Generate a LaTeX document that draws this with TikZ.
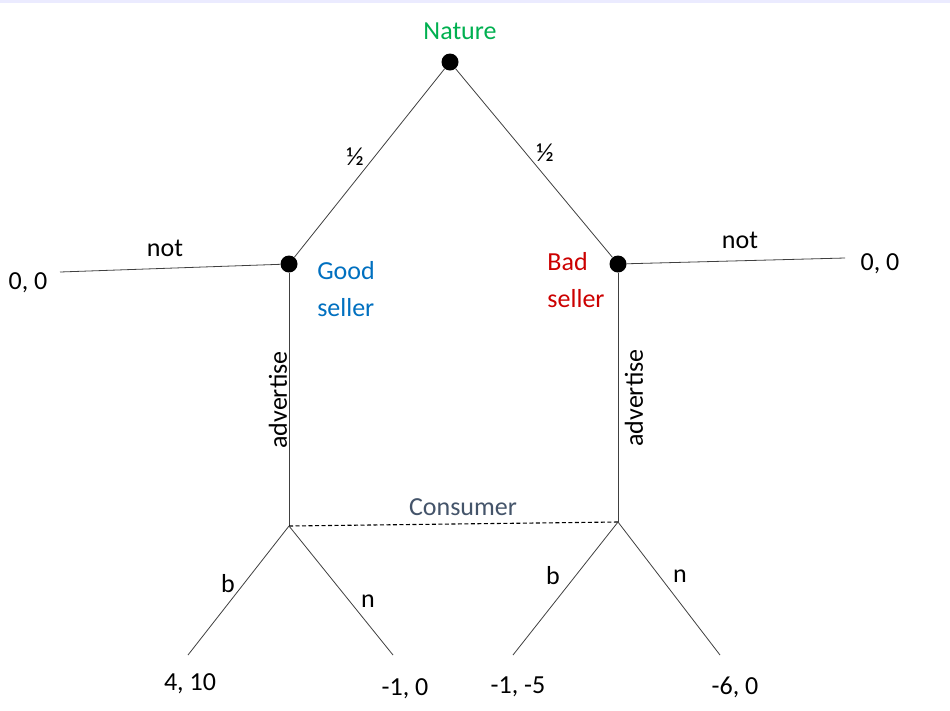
\documentclass[tikz,border=0pt]{standalone}
\usepackage{fontspec}
\setmainfont{Carlito}
\begin{document}
\begin{tikzpicture}[x=1pt,y=-1pt,
  dot/.style={circle,fill=black,inner sep=0pt,minimum width=13pt,minimum height=17pt},
  lbl/.style={font=\fontsize{26}{37}\selectfont},
  edge/.style={draw=black!75,line width=0.8pt}]
\useasboundingbox (0,0) rectangle (950,710);
\fill[white] (0,0) rectangle (950,710);
\draw[blue!8,line width=3pt] (0,1) -- (950,1);
\node[dot] (nat) at (450,62) {};
\node[dot] (gs) at (289,264) {};
\node[dot] (bs) at (618,264) {};
\coordinate (lend) at (60,272);
\coordinate (rend) at (845,258);
\coordinate (gc) at (289,526);
\coordinate (bc) at (618,522);
\coordinate (g1) at (188,655);
\coordinate (g2) at (393,655);
\coordinate (b1) at (513,655);
\coordinate (b2) at (720,655);
\draw[edge] (nat) -- (gs);
\draw[edge] (nat) -- (bs);
\draw[edge] (gs) -- (lend);
\draw[edge] (bs) -- (rend);
\draw[edge] (gs) -- (gc);
\draw[edge] (bs) -- (bc);
\draw[black,line width=1.1pt,dash pattern=on 4pt off 2.5pt] (gc) -- (bc);
\draw[edge] (gc) -- (g1);
\draw[edge] (gc) -- (g2);
\draw[edge] (bc) -- (b1);
\draw[edge] (bc) -- (b2);
\node[lbl,text={rgb,255:red,0;green,176;blue,80}] (tn) at (460,31) {Nature};
\node[lbl] (h1) at (355,157) {½};
\node[lbl] (h2) at (545,153) {½};
\node[lbl] (n1) at (165,248) {not};
\node[lbl] (n2) at (740,240) {not};
\node[lbl] (p1) at (28,283) {0, 0};
\node[lbl] (p2) at (880,264) {0, 0};
\node[lbl,text={rgb,255:red,0;green,112;blue,192},align=left] (tg) at (346,289) {Good\\seller};
\node[lbl,text={rgb,255:red,204;green,0;blue,0},align=left] (tb) at (576,280) {Bad\\seller};
\node[lbl,rotate=90] (a1) at (278,400) {advertise};
\node[lbl,rotate=90] (a2) at (634,398) {advertise};
\node[lbl,text={rgb,255:red,68;green,84;blue,106}] (tc) at (463,507) {Consumer};
\node[lbl] (lb1) at (228,584) {b};
\node[lbl] (ln1) at (368,601) {n};
\node[lbl] (lb2) at (553,576) {b};
\node[lbl] (ln2) at (680,576) {n};
\node[lbl] (o1) at (190,684) {4, 10};
\node[lbl] (o2) at (405,689) {-1, 0};
\node[lbl] (o3) at (518,687) {-1, -5};
\node[lbl] (o4) at (735,687) {-6, 0};
\end{tikzpicture}
\end{document}
